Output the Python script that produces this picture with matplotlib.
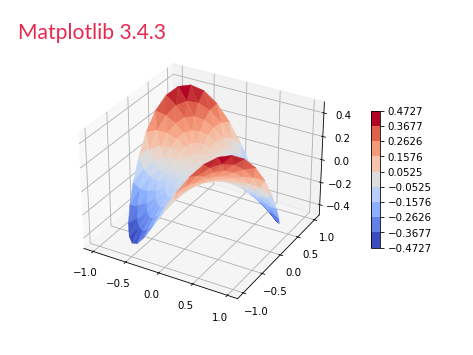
import numpy as np
import matplotlib
matplotlib.use('Agg')
import matplotlib.pyplot as plt
from matplotlib.cm import ScalarMappable
from matplotlib.colors import Normalize

title = 'Matplotlib 3.4.3'
radii = [0.125, 0.25, 0.375, 0.5, 0.625, 0.75, 0.875, 1.0]
angles_deg = list(range(0, 360, 10))
ring_offset_deg = [5, 0, 5, 0, 5, 0, 5, 0]

# surface height on each ring, going round from the ring's first angle
z_center = [0.0]
z_r1 = [-.001, -.004, -.006, -.007, -.008, -.007, -.006, -.004, -.001, .001, .004, .006, .007, .008, .007, .006, .004, .001,
        -.001, -.004, -.006, -.007, -.008, -.007, -.006, -.004, -.001, .001, .004, .006, .007, .008, .007, .006, .004, .001]
z_r2 = [0, -.011, -.020, -.027, -.031, -.031, -.027, -.020, -.011, 0, .011, .020, .027, .031, .031, .027, .020, .011,
        0, -.011, -.020, -.027, -.031, -.031, -.027, -.020, -.011, 0, .011, .020, .027, .031, .031, .027, .020, .011]
z_r3 = [-.012, -.035, -.054, -.066, -.070, -.066, -.054, -.035, -.012, .012, .035, .054, .066, .070, .066, .054, .035, .012,
        -.012, -.035, -.054, -.066, -.070, -.066, -.054, -.035, -.012, .012, .035, .054, .066, .070, .066, .054, .035, .012]
z_r4 = [0, -.043, -.080, -.108, -.123, -.123, -.108, -.080, -.043, 0, .043, .080, .108, .123, .123, .108, .080, .043,
        0, -.043, -.080, -.108, -.123, -.123, -.108, -.080, -.043, 0, .043, .080, .108, .123, .123, .108, .080, .043]
z_r5 = [-.034, -.098, -.149, -.183, -.194, -.183, -.149, -.098, -.034, .034, .098, .149, .183, .194, .183, .149, .098, .034,
        -.034, -.098, -.149, -.183, -.194, -.183, -.149, -.098, -.034, .034, .098, .149, .183, .194, .183, .149, .098, .034]
z_r6 = [0, -.096, -.180, -.241, -.274, -.274, -.241, -.180, -.096, 0, .096, .180, .241, .274, .274, .241, .180, .096,
        0, -.096, -.180, -.241, -.274, -.274, -.241, -.180, -.096, 0, .096, .180, .241, .274, .274, .241, .180, .096]
z_r7 = [-.067, -.190, -.289, -.352, -.374, -.352, -.289, -.190, -.067, .067, .190, .289, .352, .374, .352, .289, .190, .067,
        -.067, -.190, -.289, -.352, -.374, -.352, -.289, -.190, -.067, .067, .190, .289, .352, .374, .352, .289, .190, .067]
z_r8 = [0, -.170, -.316, -.420, -.4727, -.4727, -.420, -.316, -.170, 0, .170, .316, .420, .4727, .4727, .420, .316, .170,
        0, -.170, -.316, -.420, -.4727, -.4727, -.420, -.316, -.170, 0, .170, .316, .420, .4727, .4727, .420, .316, .170]

cbar_ticks = [-0.4727, -0.3677, -0.2626, -0.1576, -0.0525, 0.0525, 0.1576, 0.2626, 0.3677, 0.4727]
cbar_labels = ['\u22120.4727', '\u22120.3677', '\u22120.2626', '\u22120.1576', '\u22120.0525',
               '0.0525', '0.1576', '0.2626', '0.3677', '0.4727']

ang = np.radians(np.array(angles_deg)[None, :] + np.array(ring_offset_deg)[:, None])
r = np.array(radii)[:, None]
x = np.append(0, (r * np.cos(ang)).flatten())
y = np.append(0, (r * np.sin(ang)).flatten())
z = np.concatenate([z_center, z_r1, z_r2, z_r3, z_r4, z_r5, z_r6, z_r7, z_r8])

fig = plt.figure(figsize=(6.4, 4.8), dpi=74)
ax = fig.add_subplot(projection='3d')
# faces are coloured by their mean height, which tops out a little under the vertex max
surf = ax.plot_trisurf(x, y, z, cmap='coolwarm', linewidth=0.4,
                       antialiased=True, vmin=-0.44, vmax=0.44)
surf.set_edgecolor('face')
ax.set_xticks([-1.0, -0.5, 0.0, 0.5, 1.0])
ax.set_yticks([-1.0, -0.5, 0.0, 0.5, 1.0])
ax.set_zticks([-0.4, -0.2, 0.0, 0.2, 0.4])

# the colorbar steps in 9 colours while the surface runs through all of them
sm = ScalarMappable(Normalize(cbar_ticks[0], cbar_ticks[-1]), plt.get_cmap('coolwarm', 9))
cbar = fig.colorbar(sm, ax=ax, shrink=0.5, aspect=15)
cbar.set_ticks(cbar_ticks, labels=cbar_labels)

# the 3d box sits further left than the default layout puts it
pos = ax.get_position()
ax.set_position([pos.x0 - 16 / 474, pos.y0, pos.width, pos.height])

fig.text(18 / 474, 1 - 33 / 355, title, color='#e8294f', fontsize=20.5, family='Lato', va='center')
fig.savefig('out.png')
